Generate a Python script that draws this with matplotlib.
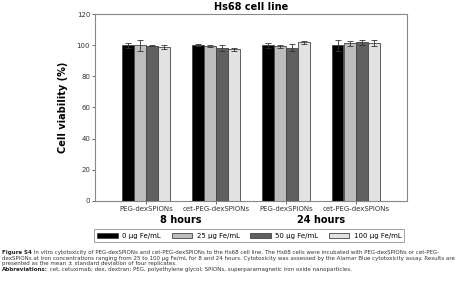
import matplotlib
matplotlib.use("Agg")
import matplotlib.pyplot as plt
import numpy as np
from matplotlib.patches import Patch

categories = ["PEG-dexSPIONs", "cet-PEG-dexSPIONs", "PEG-dexSPIONs", "cet-PEG-dexSPIONs"]
time_labels = ["8 hours", "24 hours"]
series_names = ["0 µg Fe/mL", "25 µg Fe/mL", "50 µg Fe/mL", "100 µg Fe/mL"]
values = [
    [100.0, 100.0, 100.0, 100.0],   # 0
    [100.0, 99.5, 99.3, 101.2],     # 25
    [99.8, 98.3, 98.5, 101.8],      # 50
    [99.0, 97.3, 101.8, 101.3],     # 100
]
errors = [
    [1.5, 0.5, 1.5, 3.5],
    [3.5, 0.8, 1.0, 1.5],
    [0.5, 2.0, 2.5, 1.5],
    [1.2, 1.0, 0.7, 2.0],
]
colors = ["#000000", "#bdbdbd", "#606060", "#e2e2e2"]

fig = plt.figure(figsize=(4.74, 2.88), dpi=100)
ax = fig.add_axes([0.2004, 0.303, 0.6582, 0.648])

x = np.arange(len(categories))
w = 0.175
for i in range(4):
    ax.bar(x + (i - 1.5) * w, values[i], w * 0.97, color=colors[i],
           edgecolor="#444444", linewidth=0.6,
           yerr=errors[i], ecolor="#333333",
           error_kw=dict(elinewidth=0.6, capsize=2.2, capthick=0.6))

ax.set_xlim(-0.73, 3.73)
ax.set_ylim(0, 120)
ax.set_yticks([0, 20, 40, 60, 80, 100, 120])
ax.set_xticks(x)
ax.set_xticklabels(categories, fontsize=5, color="#333333")
ax.tick_params(axis="y", labelsize=5, colors="#333333", length=2, width=0.5, pad=1.5)
ax.tick_params(axis="x", length=2, width=0.5, pad=1.5, colors="#333333")
for sp in ax.spines.values():
    sp.set_color("#888888")
    sp.set_linewidth(0.8)

ax.set_ylabel("Cell viability (%)", fontsize=7, fontweight="bold", labelpad=6)
ax.set_title("Hs68 cell line", fontsize=7, fontweight="bold", pad=3)

for j, lab in enumerate(time_labels):
    ax.text(0.5 + 2 * j, -0.105, lab, transform=ax.get_xaxis_transform(),
            ha="center", va="center", fontsize=7, fontweight="bold")

handles = [Patch(facecolor=colors[i], edgecolor="#444444", linewidth=0.6) for i in range(4)]
leg = fig.legend(handles, series_names, ncol=4, loc="center",
                 bbox_to_anchor=(0.526, 0.182), fontsize=5, frameon=True,
                 fancybox=False, edgecolor="#777777", handlelength=3.0,
                 handleheight=0.8, columnspacing=1.5, handletextpad=0.6,
                 borderpad=0.45)
leg.get_frame().set_linewidth(0.6)

lines = [
    ("Figure S4", " In vitro cytotoxicity of PEG-dexSPIONs and cet-PEG-dexSPIONs to the Hs68 cell line. The Hs68 cells were incubated with PEG-dexSPIONs or cet-PEG-"),
    ("", "dexSPIONs at iron concentrations ranging from 25 to 100 µg Fe/mL for 8 and 24 hours. Cytotoxicity was assessed by the Alamar Blue cytotoxicity assay. Results are"),
    ("", "presented as the mean ± standard deviation of four replicates."),
    ("Abbreviations:", " cet, cetuximab; dex, dextran; PEG, polyethylene glycol; SPIONs, superparamagnetic iron oxide nanoparticles."),
]
ys = [252.7, 258.3, 264.0, 269.7]
renderer = fig.canvas.get_renderer()
fs = 4.0
for (b, t), yp in zip(lines, ys):
    yf = 1 - yp / 288
    x0 = 0.004
    if b:
        tb = fig.text(x0, yf, b, fontsize=fs, fontweight="bold", va="center",
                      ha="left", color="#222222")
        bb = tb.get_window_extent(renderer)
        x0 = bb.x1 / fig.bbox.width
    fig.text(x0, yf, t, fontsize=fs, va="center", ha="left", color="#333333")

fig.savefig("out.png", dpi=100)
